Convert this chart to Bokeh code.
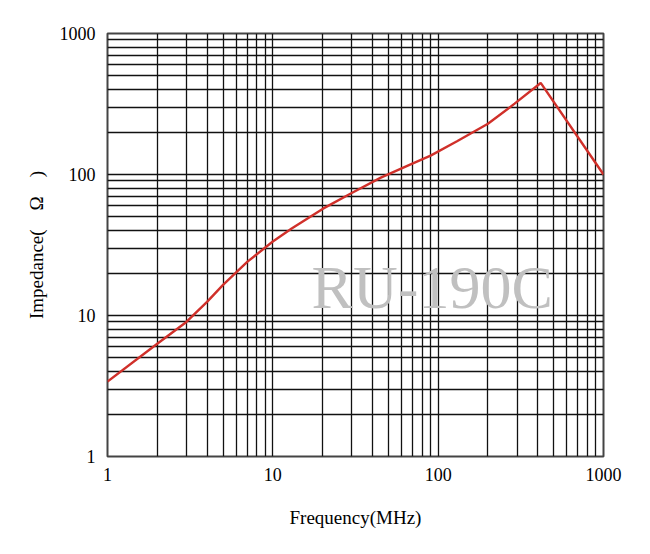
from bokeh.plotting import figure
from bokeh.models import Range1d, FixedTicker, Label
from bokeh.embed import file_html
from bokeh.resources import INLINE

# Data
freq_mhz = [1, 2, 3, 4, 5, 7, 10, 13, 20, 30, 45, 65, 90, 130, 200, 290, 417, 1000]
impedance = [3.4, 6.3, 9.0, 12.5, 16.5, 24, 33.5, 41.4, 57, 74, 95, 115, 136, 172, 229, 318, 446, 100]

major_ticks = [1, 10, 100, 1000]
minor_ticks = [m * d for d in [1, 10, 100] for m in range(2, 10)]

watermark_text = "RU-190C"
watermark_pos = (92, 16)

p = figure(width=650, height=554, x_axis_type="log", y_axis_type="log",
           x_range=Range1d(1, 1000), y_range=Range1d(1, 1000),
           output_backend="svg", toolbar_location=None,
           min_border_left=107, min_border_right=47, min_border_top=33, min_border_bottom=98)

p.background_fill_color = "white"
p.border_fill_color = "white"
p.outline_line_color = "#444444"
p.outline_line_width = 2

for ax in (p.xaxis[0], p.yaxis[0]):
    ax.ticker = FixedTicker(ticks=major_ticks, minor_ticks=minor_ticks)
    ax.major_tick_line_color = None
    ax.minor_tick_line_color = None
    ax.axis_line_color = None
    ax.major_label_text_font = "Liberation Serif"
    ax.major_label_text_font_size = "18px"
    ax.major_label_text_color = "black"
    ax.axis_label_text_font = "Liberation Serif"
    ax.axis_label_text_font_size = "19px"
    ax.axis_label_text_font_style = "normal"
    ax.axis_label_text_color = "black"

p.xaxis[0].major_label_overrides = {1: "1", 10: "10", 100: "100", 1000: "1000"}
p.yaxis[0].major_label_overrides = {1: "1", 10: "10", 100: "100", 1000: "1000"}
p.xaxis[0].major_label_standoff = 5
p.yaxis[0].major_label_standoff = 6
p.xaxis[0].axis_label = "Frequency(MHz)"
p.yaxis[0].axis_label = "Impedance(\u3000\u03a9\u3000)"
p.xaxis[0].axis_label_standoff = 23
p.yaxis[0].axis_label_standoff = 10

for g in (p.xgrid[0], p.ygrid[0]):
    g.ticker = FixedTicker(ticks=major_ticks, minor_ticks=minor_ticks)
    g.grid_line_color = "#111111"
    g.grid_line_width = 1.3
    g.grid_line_alpha = 1.0
    g.minor_grid_line_color = "#111111"
    g.minor_grid_line_width = 1.3

wm = Label(x=watermark_pos[0], y=watermark_pos[1], text=watermark_text,
           text_align="center", text_baseline="alphabetic",
           text_font="Liberation Serif", text_font_size="62px", text_color="#c0c0c0")
p.add_layout(wm)

p.line(freq_mhz, impedance, line_color="#d0302a", line_width=2.4)

open("out.html", "w").write(file_html(p, INLINE))
